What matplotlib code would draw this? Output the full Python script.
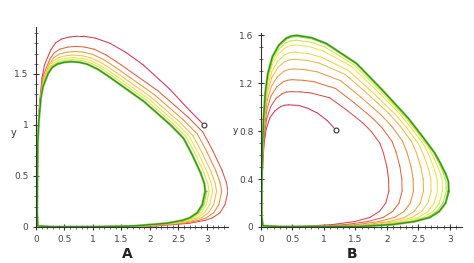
import numpy as np
import matplotlib
matplotlib.use("Agg")
import matplotlib.pyplot as plt
from matplotlib.collections import LineCollection
from matplotlib.colors import LinearSegmentedColormap
from matplotlib.ticker import MultipleLocator, FuncFormatter

# ---- panel A: trajectory starts outside the limit cycle
a_start = (2.95, 1.0)
a_loop0 = [(2.95, 1.0), (2.70, 1.14), (2.35, 1.35), (1.88, 1.59), (1.58, 1.71), (1.30, 1.80), (1.05, 1.85),
           (0.83, 1.87), (0.75, 1.87), (0.6, 1.863), (0.45, 1.842), (0.345, 1.805), (0.263, 1.739),
           (0.15, 1.59), (0.105, 1.459), (0.06, 1.197), (0.038, 0.935), (0.025, 0.561), (0.02, 0.187),
           (0.03, 0.01), (0.3, 0.002), (1.47, 0.003), (2.11, 0.01), (2.69, 0.036), (2.97, 0.065),
           (3.10, 0.09), (3.23, 0.14), (3.32, 0.22), (3.37, 0.35)]
a_loop1 = [(3.343, 0.435), (3.269, 0.552), (3.103, 0.748), (3.023, 0.833), (2.929, 0.931), (2.670, 1.077),
           (2.142, 1.334), (1.488, 1.591), (1.234, 1.685), (1.02, 1.742), (0.86, 1.763), (0.70, 1.77),
           (0.56, 1.763), (0.42, 1.743), (0.322, 1.708), (0.245, 1.646), (0.14, 1.505), (0.098, 1.381),
           (0.056, 1.133), (0.035, 0.885), (0.025, 0.531), (0.02, 0.177), (0.03, 0.01), (0.3, 0.002),
           (1.36, 0.003), (2.0, 0.01), (2.58, 0.036), (2.86, 0.065), (2.99, 0.09), (3.12, 0.14),
           (3.21, 0.22), (3.26, 0.35)]
a_loop2 = [(3.234, 0.432), (3.162, 0.545), (3.002, 0.734), (2.925, 0.816), (2.834, 0.91), (2.584, 1.051),
           (2.073, 1.299), (1.441, 1.547), (1.196, 1.638), (0.99, 1.693), (0.835, 1.713), (0.68, 1.72),
           (0.544, 1.713), (0.408, 1.694), (0.313, 1.66), (0.238, 1.6), (0.136, 1.462), (0.095, 1.342),
           (0.054, 1.101), (0.034, 0.86), (0.025, 0.516), (0.02, 0.172), (0.03, 0.01), (0.3, 0.002),
           (1.27, 0.003), (1.91, 0.01), (2.49, 0.036), (2.77, 0.065), (2.9, 0.09), (3.03, 0.14),
           (3.12, 0.22), (3.17, 0.35)]
a_loop3 = [(3.145, 0.43), (3.075, 0.54), (2.919, 0.724), (2.844, 0.804), (2.756, 0.896), (2.512, 1.034),
           (2.015, 1.275), (1.40, 1.517), (1.162, 1.605), (0.961, 1.658), (0.811, 1.678), (0.66, 1.685),
           (0.528, 1.678), (0.396, 1.66), (0.304, 1.626), (0.231, 1.567), (0.132, 1.432), (0.092, 1.314),
           (0.053, 1.078), (0.033, 0.843), (0.025, 0.506), (0.02, 0.169), (0.03, 0.01), (0.3, 0.002),
           (1.2, 0.003), (1.84, 0.01), (2.42, 0.036), (2.7, 0.065), (2.83, 0.09), (2.96, 0.14),
           (3.05, 0.22), (3.10, 0.35)]
a_loop4 = [(3.076, 0.429), (3.007, 0.536), (2.855, 0.717), (2.782, 0.795), (2.696, 0.886), (2.458, 1.021),
           (1.973, 1.258), (1.373, 1.495), (1.14, 1.581), (0.944, 1.634), (0.797, 1.653), (0.65, 1.66),
           (0.52, 1.653), (0.39, 1.635), (0.299, 1.602), (0.228, 1.544), (0.13, 1.411), (0.091, 1.295),
           (0.052, 1.062), (0.033, 0.83), (0.025, 0.498), (0.02, 0.166), (0.03, 0.01), (0.3, 0.002),
           (1.14, 0.003), (1.78, 0.01), (2.36, 0.036), (2.64, 0.065), (2.77, 0.09), (2.9, 0.14),
           (2.99, 0.22), (3.04, 0.35)]
a_loop5 = [(3.016, 0.427), (2.949, 0.533), (2.8, 0.711), (2.728, 0.789), (2.644, 0.878), (2.411, 1.01),
           (1.936, 1.244), (1.348, 1.477), (1.12, 1.563), (0.928, 1.614), (0.784, 1.634), (0.64, 1.64),
           (0.512, 1.633), (0.384, 1.615), (0.294, 1.583), (0.224, 1.525), (0.128, 1.394), (0.09, 1.279),
           (0.051, 1.05), (0.032, 0.82), (0.025, 0.492), (0.02, 0.164), (0.03, 0.01), (0.3, 0.002),
           (1.1, 0.003), (1.74, 0.01), (2.32, 0.036), (2.6, 0.065), (2.73, 0.09), (2.86, 0.14),
           (2.95, 0.22), (3.0, 0.35)]
a_limit = [(2.97, 0.35), (2.956, 0.426), (2.89, 0.53), (2.744, 0.706), (2.673, 0.782), (2.591, 0.869),
           (2.362, 1.0), (1.894, 1.23), (1.316, 1.46), (1.092, 1.544), (0.903, 1.595), (0.762, 1.614),
           (0.62, 1.62), (0.496, 1.614), (0.372, 1.596), (0.285, 1.563), (0.217, 1.507), (0.124, 1.377),
           (0.087, 1.264), (0.05, 1.037), (0.031, 0.81), (0.025, 0.486), (0.02, 0.162), (0.03, 0.01),
           (0.3, 0.002), (1.07, 0.003), (1.71, 0.01), (2.29, 0.036), (2.57, 0.065), (2.7, 0.09),
           (2.83, 0.14), (2.92, 0.22), (2.97, 0.35)]

# ---- panel B: trajectory starts inside and winds out to the limit cycle
b_start = (1.19, 0.81)
b_loop0 = [(1.19, 0.81), (1.05, 0.89), (0.9, 0.95), (0.75, 0.99), (0.6, 1.015), (0.44, 1.02), (0.374, 1.017),
           (0.31, 1.005), (0.22, 0.97), (0.14, 0.91), (0.084, 0.82), (0.053, 0.71), (0.031, 0.57),
           (0.018, 0.38), (0.012, 0.19), (0.01, 0.06), (0.03, 0.01), (0.3, 0.003), (0.63, 0.005),
           (1.13, 0.02), (1.48, 0.045), (1.73, 0.08), (1.88, 0.13), (1.98, 0.2), (2.03, 0.3)]
b_loop1 = [(2.025, 0.4), (2.0, 0.499), (1.945, 0.615), (1.887, 0.70), (1.751, 0.798), (1.615, 0.87),
           (1.351, 0.98), (1.088, 1.08), (0.784, 1.12), (0.632, 1.128), (0.48, 1.13), (0.408, 1.127),
           (0.336, 1.113), (0.24, 1.074), (0.154, 1.006), (0.091, 0.904), (0.058, 0.791), (0.034, 0.633),
           (0.02, 0.424), (0.012, 0.215), (0.01, 0.068), (0.03, 0.01), (0.3, 0.003), (0.84, 0.005),
           (1.34, 0.02), (1.69, 0.045), (1.94, 0.08), (2.09, 0.13), (2.19, 0.2), (2.24, 0.3)]
b_loop2 = [(2.235, 0.4), (2.205, 0.505), (2.144, 0.625), (2.08, 0.715), (1.927, 0.825), (1.774, 0.908),
           (1.478, 1.038), (1.182, 1.157), (0.841, 1.213), (0.671, 1.225), (0.5, 1.23), (0.425, 1.226),
           (0.35, 1.212), (0.25, 1.169), (0.16, 1.095), (0.095, 0.984), (0.06, 0.861), (0.035, 0.689),
           (0.02, 0.461), (0.012, 0.234), (0.01, 0.074), (0.03, 0.01), (0.3, 0.003), (1.02, 0.005),
           (1.52, 0.02), (1.87, 0.045), (2.12, 0.08), (2.27, 0.13), (2.37, 0.2), (2.42, 0.3)]
b_loop3 = [(2.415, 0.4), (2.382, 0.505), (2.316, 0.626), (2.245, 0.719), (2.078, 0.839), (1.911, 0.934),
           (1.588, 1.083), (1.265, 1.222), (0.892, 1.296), (0.706, 1.313), (0.52, 1.32), (0.442, 1.316),
           (0.364, 1.30), (0.26, 1.254), (0.166, 1.175), (0.099, 1.056), (0.062, 0.924), (0.036, 0.739),
           (0.02, 0.495), (0.012, 0.251), (0.01, 0.079), (0.03, 0.01), (0.3, 0.003), (1.18, 0.005),
           (1.68, 0.02), (2.03, 0.045), (2.28, 0.08), (2.43, 0.13), (2.53, 0.2), (2.58, 0.3)]
b_loop4 = [(2.575, 0.4), (2.539, 0.499), (2.467, 0.619), (2.391, 0.712), (2.211, 0.841), (2.031, 0.948),
           (1.682, 1.117), (1.334, 1.275), (0.932, 1.367), (0.731, 1.391), (0.53, 1.40), (0.45, 1.396),
           (0.371, 1.379), (0.265, 1.33), (0.17, 1.246), (0.101, 1.12), (0.064, 0.98), (0.037, 0.784),
           (0.02, 0.525), (0.012, 0.266), (0.01, 0.084), (0.03, 0.01), (0.3, 0.003), (1.3, 0.005),
           (1.8, 0.02), (2.15, 0.045), (2.4, 0.08), (2.55, 0.13), (2.65, 0.2), (2.70, 0.3)]
b_loop5 = [(2.695, 0.4), (2.657, 0.488), (2.581, 0.602), (2.501, 0.694), (2.311, 0.829), (2.121, 0.946),
           (1.754, 1.133), (1.387, 1.307), (0.963, 1.417), (0.752, 1.448), (0.54, 1.46), (0.459, 1.456),
           (0.378, 1.438), (0.27, 1.387), (0.173, 1.299), (0.103, 1.168), (0.065, 1.022), (0.038, 0.818),
           (0.02, 0.548), (0.012, 0.277), (0.01, 0.088), (0.03, 0.01), (0.3, 0.003), (1.4, 0.005),
           (1.9, 0.02), (2.25, 0.045), (2.5, 0.08), (2.65, 0.13), (2.75, 0.2), (2.80, 0.3)]
b_loop6 = [(2.795, 0.4), (2.755, 0.478), (2.676, 0.588), (2.593, 0.679), (2.395, 0.821), (2.197, 0.948),
           (1.815, 1.15), (1.432, 1.342), (0.991, 1.469), (0.771, 1.506), (0.55, 1.52), (0.468, 1.515),
           (0.385, 1.497), (0.275, 1.444), (0.176, 1.353), (0.105, 1.216), (0.066, 1.064), (0.039, 0.851),
           (0.02, 0.57), (0.012, 0.289), (0.01, 0.091), (0.03, 0.01), (0.3, 0.003), (1.48, 0.005),
           (1.98, 0.02), (2.33, 0.045), (2.58, 0.08), (2.73, 0.13), (2.83, 0.2), (2.88, 0.3)]
b_loop7 = [(2.875, 0.4), (2.834, 0.465), (2.752, 0.567), (2.667, 0.657), (2.462, 0.802), (2.258, 0.936),
           (1.864, 1.153), (1.469, 1.357), (1.015, 1.502), (0.787, 1.544), (0.56, 1.56), (0.476, 1.555),
           (0.392, 1.537), (0.28, 1.482), (0.179, 1.388), (0.106, 1.248), (0.067, 1.092), (0.039, 0.874),
           (0.02, 0.585), (0.012, 0.296), (0.01, 0.094), (0.03, 0.01), (0.3, 0.003), (1.54, 0.005),
           (2.04, 0.02), (2.39, 0.045), (2.64, 0.08), (2.79, 0.13), (2.89, 0.2), (2.94, 0.3)]
b_loop8 = [(2.935, 0.38), (2.893, 0.454), (2.81, 0.55), (2.722, 0.638), (2.513, 0.786), (2.305, 0.926),
           (1.902, 1.154), (1.499, 1.368), (1.035, 1.525), (0.802, 1.572), (0.57, 1.59), (0.485, 1.585),
           (0.399, 1.566), (0.285, 1.511), (0.182, 1.415), (0.108, 1.272), (0.068, 1.113), (0.04, 0.89),
           (0.02, 0.596), (0.012, 0.302), (0.01, 0.095), (0.03, 0.01), (0.3, 0.003), (1.58, 0.005),
           (2.08, 0.02), (2.43, 0.045), (2.68, 0.08), (2.83, 0.13), (2.93, 0.2), (2.98, 0.3)]
b_limit = [(2.98, 0.3), (2.975, 0.38), (2.932, 0.443), (2.847, 0.534), (2.758, 0.618), (2.546, 0.768),
           (2.334, 0.911), (1.924, 1.145), (1.515, 1.366), (1.042, 1.531), (0.806, 1.58), (0.57, 1.6),
           (0.485, 1.595), (0.399, 1.576), (0.285, 1.52), (0.182, 1.424), (0.108, 1.28), (0.068, 1.12),
           (0.04, 0.9), (0.02, 0.6), (0.012, 0.3), (0.01, 0.096), (0.03, 0.01), (0.3, 0.003), (1.58, 0.005),
           (2.08, 0.02), (2.43, 0.045), (2.68, 0.08), (2.83, 0.13), (2.93, 0.2), (2.98, 0.3)]

a_loops = [a_loop0, a_loop1, a_loop2, a_loop3, a_loop4, a_loop5, a_limit]
b_loops = [b_loop0, b_loop1, b_loop2, b_loop3, b_loop4, b_loop5, b_loop6, b_loop7, b_loop8, b_limit]

cmap = LinearSegmentedColormap.from_list(
    "traj", ["#d2305c", "#e2603e", "#eea040", "#f3d24a", "#ecec46", "#a8dc38", "#4cbc2a"])


def draw_trajectory(ax, loops, start):
    pts = np.array([p for loop in loops for p in loop])
    segs = np.stack([pts[:-1], pts[1:]], axis=1)
    lc = LineCollection(segs, cmap=cmap, linewidths=0.75, capstyle="round", joinstyle="round")
    lc.set_array(np.linspace(0, 1, len(segs)))
    ax.add_collection(lc)
    lim = np.array(loops[-1])
    ax.plot(lim[:, 0], lim[:, 1], color="#62c834", lw=1.6, solid_joinstyle="round")
    ax.plot(lim[:, 0], lim[:, 1], color="#2f5a1a", lw=0.4, solid_joinstyle="round")
    ax.plot(*start, "o", ms=3.5, mfc="white", mec="#333333", mew=0.8)


def style_axes(ax, xmaj, ymaj):
    for s in ["top", "right"]:
        ax.spines[s].set_visible(False)
    for s in ["left", "bottom"]:
        ax.spines[s].set_linewidth(0.8)
        ax.spines[s].set_color("#333333")
    ax.xaxis.set_major_locator(MultipleLocator(xmaj))
    ax.yaxis.set_major_locator(MultipleLocator(ymaj))
    ax.xaxis.set_minor_locator(MultipleLocator(0.1))
    ax.yaxis.set_minor_locator(MultipleLocator(0.1))
    fmt = FuncFormatter(lambda v, p: "%g" % round(v, 2))
    ax.xaxis.set_major_formatter(fmt)
    ax.yaxis.set_major_formatter(fmt)
    ax.tick_params(which="major", direction="inout", length=5, width=0.8, color="#333333",
                   labelsize=6.5, labelcolor="#444444", pad=3)
    ax.tick_params(which="minor", direction="inout", length=3, width=0.6, color="#555555")


fig = plt.figure(figsize=(4.74, 2.63), dpi=100)

axA = fig.add_axes([0.0759, 0.1369, 0.405, 0.7605])
draw_trajectory(axA, a_loops, a_start)
axA.set_xlim(0, 3.37)
axA.set_ylim(0, 1.96)
style_axes(axA, 0.5, 0.5)

axB = fig.add_axes([0.5506, 0.1369, 0.424, 0.7376])
draw_trajectory(axB, b_loops, b_start)
axB.set_xlim(0, 3.19)
axB.set_ylim(0, 1.62)
style_axes(axB, 0.5, 0.4)

fig.text(0.0295, 0.494, "y", fontsize=7, color="#333333", ha="center", va="center")
fig.text(0.496, 0.502, "y", fontsize=6.5, color="#333333", ha="center", va="center")
fig.text(0.268, 0.036, "A", fontsize=10, fontweight="bold", color="#222222", ha="center", va="center")
fig.text(0.743, 0.036, "B", fontsize=10, fontweight="bold", color="#222222", ha="center", va="center")

fig.savefig("out.png", dpi=100, facecolor="white")
